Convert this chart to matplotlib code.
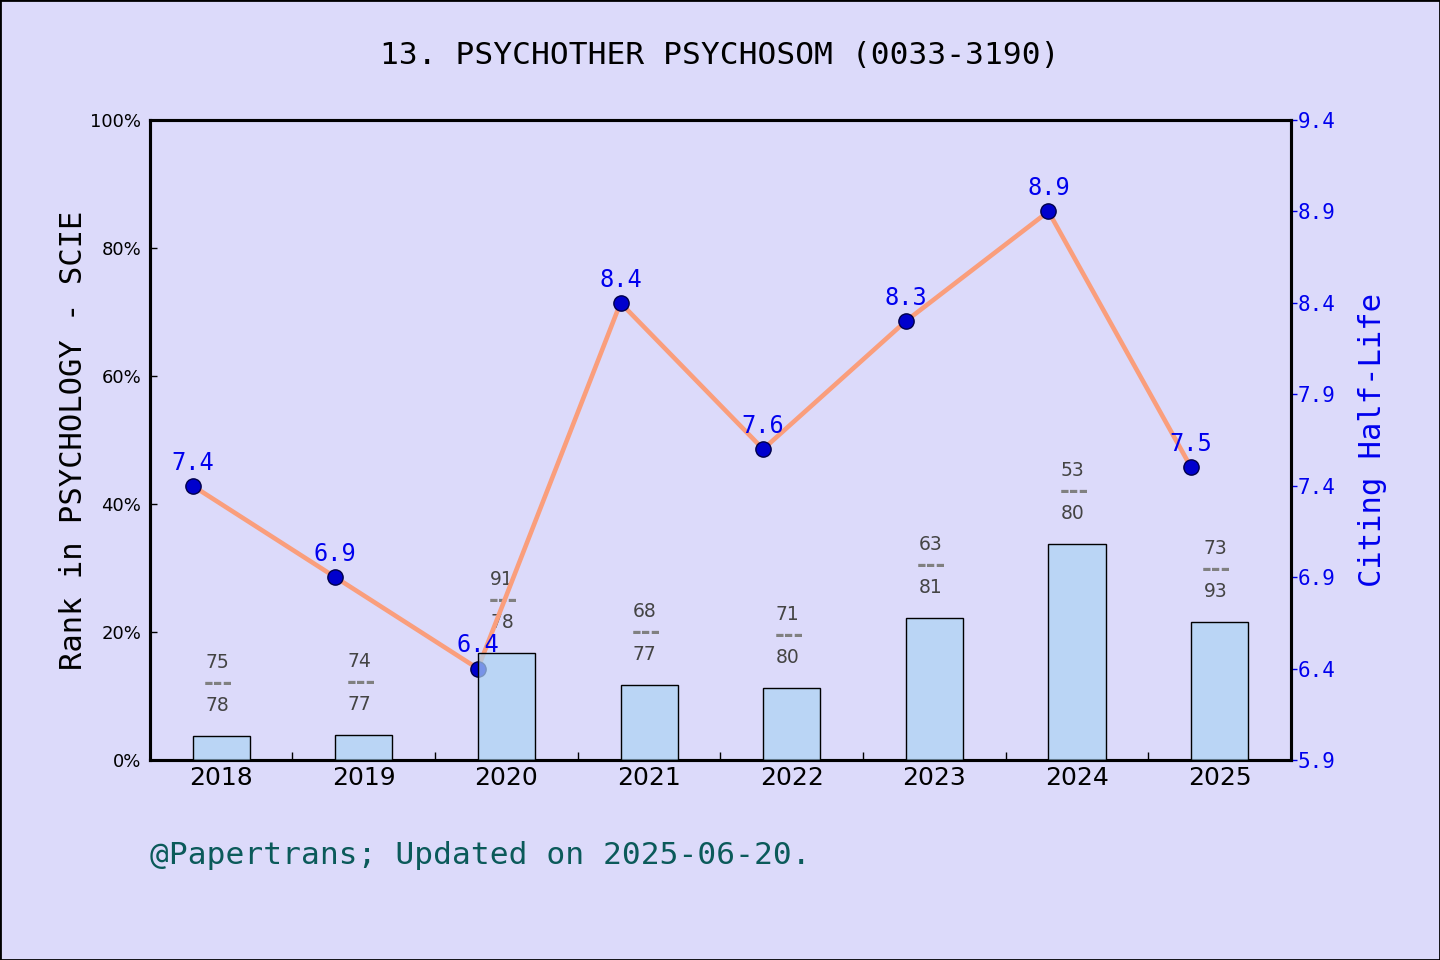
import matplotlib.pyplot as plt
import numpy as np
from matplotlib.patches import Rectangle

years = ["2018", "2019", "2020", "2021", "2022", "2023", "2024", "2025"]
rank = [75, 74, 91, 68, 71, 63, 53, 73]
total = [78, 77, 78, 77, 80, 81, 80, 93]
rank_pct = [3.8, 3.9, 16.7, 11.7, 11.25, 22.2, 33.75, 21.6]
half_life = [7.4, 6.9, 6.4, 8.4, 7.6, 8.3, 8.9, 7.5]

mono = ["DejaVu Sans Mono"]
bg = "#dcdafa"

fig = plt.figure(figsize=(14.4, 9.6), dpi=100, facecolor=bg)
ax = fig.add_axes([0.104, 0.2083, 0.7925, 0.6667])
ax2 = ax.twinx()
ax.set_zorder(ax2.get_zorder() + 1)
ax.patch.set_visible(False)
ax2.patch.set_facecolor("white")

x = np.arange(len(years))

# bars (rank percent), drawn above the line with some transparency
ax.bar(x, rank_pct, width=0.4, facecolor=(172/255, 211/255, 244/255, 0.7),
       edgecolor="black", linewidth=1, zorder=3)
ax.set_xlim(-0.5, len(years) - 0.5)
ax.set_ylim(0, 100)
ax.set_yticks(range(0, 101, 20))
ax.set_yticklabels([f"{v}%" for v in range(0, 101, 20)],
                   family=["Liberation Sans Narrow", "DejaVu Sans"], fontsize=13)
ax.tick_params(axis="y", direction="in", length=5, width=1, pad=6)
ax.set_xticks(x)
ax.set_xticklabels(years, fontsize=18)
ax.tick_params(axis="x", which="major", length=0, pad=4)
ax.set_xticks(np.arange(0.5, len(years) - 0.5), minor=True)
ax.tick_params(axis="x", which="minor", direction="in", length=6, width=1)
ax.set_ylabel("Rank in PSYCHOLOGY - SCIE", family=mono, fontsize=22, labelpad=2)

# bar labels, kept under the line
for i in range(len(years)):
    common = dict(xy=(x[i], rank_pct[i]), xycoords=ax.transData,
                  textcoords="offset points", ha="center", va="center", zorder=1)
    ax2.annotate(f"{rank[i]}", xytext=(-3, 53), fontsize=13.5, color="#444444", **common)
    ax2.annotate("---", xytext=(-2, 38), fontsize=17, fontweight="bold",
                 color="#808080", **common)
    ax2.annotate(f"{total[i]}", xytext=(-3, 22), fontsize=13.5, color="#444444", **common)

# citing half-life line
xp = x - 0.2
ax2.plot(xp, half_life, color="#fa9e7c", linewidth=3.3, zorder=2,
         marker="o", markersize=11, markerfacecolor="#0000cd",
         markeredgecolor="#00004a", markeredgewidth=1)
for xi, v in zip(xp, half_life):
    ax2.annotate(f"{v}", xy=(xi, v), xytext=(0, 8), textcoords="offset points",
                 ha="center", va="bottom", family=mono, fontsize=17,
                 color="#0000ee", zorder=4)
ax2.set_ylim(5.9, 9.4)
ax2.set_yticks(np.arange(5.9, 9.41, 0.5))
ax2.set_yticklabels([f"{v:.1f}" for v in np.arange(5.9, 9.41, 0.5)],
                    family=mono, fontsize=15, color="#0000ee")
ax2.tick_params(axis="y", direction="out", length=4, width=1, colors="#0000ee", pad=1)
ax2.set_ylabel("Citing Half-Life", family=mono, fontsize=22, color="#0000ee",
               labelpad=16)

for a in (ax, ax2):
    for s in a.spines.values():
        s.set_linewidth(2.2)
        s.set_color("black")

fig.text(0.5, 0.942, "13. PSYCHOTHER PSYCHOSOM (0033-3190)", ha="center",
         va="center", family=mono, fontsize=22.5)
fig.text(0.104, 0.109, "@Papertrans; Updated on 2025-06-20.", ha="left",
         va="center", family=mono, fontsize=22.5, color="#0b5a5a")

fig.patches.append(Rectangle((0, 0), 1, 1, transform=fig.transFigure,
                             fill=False, edgecolor="black", linewidth=2))

fig.savefig("out.png", dpi=100, facecolor=bg)
